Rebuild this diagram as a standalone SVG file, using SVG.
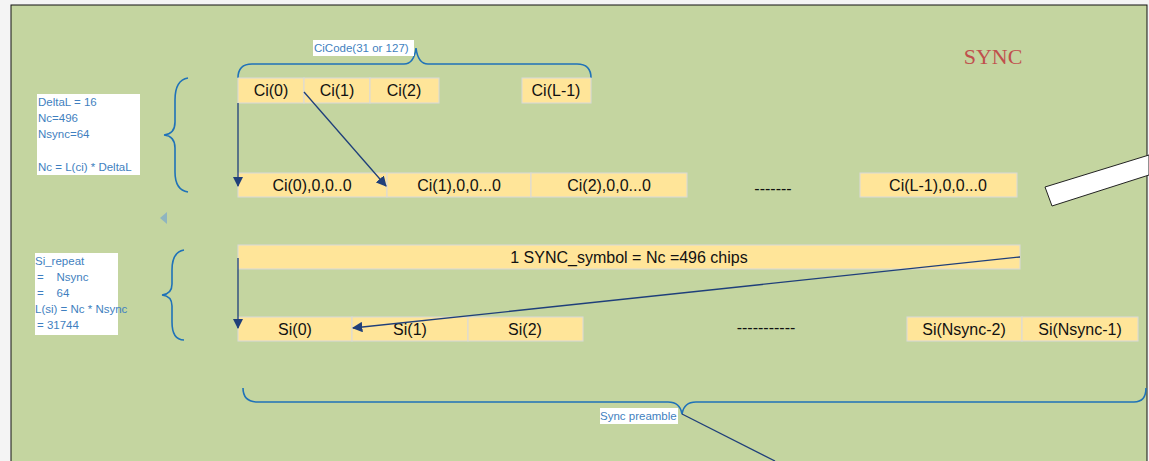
<svg xmlns="http://www.w3.org/2000/svg" width="1149" height="461" viewBox="0 0 1149 461">
<style>
.c{fill:#ffe599;stroke:#d9d9d9;stroke-width:1}
.t{font-family:"Liberation Sans",Arial,sans-serif;font-size:16px;fill:#111;text-anchor:middle}
.n{font-family:"Liberation Sans",Arial,sans-serif;font-size:11.5px;fill:#3f7fc0;white-space:pre}
.b{fill:none;stroke:#1f72b8;stroke-width:1.6}
.a{stroke:#1f3f7a;stroke-width:1.3;fill:none}
</style>
<defs><marker id="m" viewBox="0 0 10 10" refX="9" refY="5" markerWidth="8" markerHeight="8" orient="auto"><path d="M0,0L10,5L0,10z" fill="#1f3f7a"/></marker></defs>
<rect width="1149" height="461" fill="#f4f4f4"/>
<rect x="11" y="5" width="1136" height="470" fill="#c4d5a0" stroke="#111" stroke-width="1"/>
<text x="993" y="64" font-family="Liberation Serif,serif" font-size="22" fill="#c0504d" text-anchor="middle">SYNC</text>
<g id="braces">
<path class="b" d="M238,78 Q238,64 252,64 L404,64 Q414,64 416,48 Q418,64 428,64 L577,64 Q591,64 591,78"/>
<path class="b" d="M188,78 Q175,80 175,100 L175,122 Q175,134 164,135 Q175,136 175,148 L175,172 Q175,190 188,192"/>
<path class="b" d="M184,250 Q172,252 172,270 L172,284 Q172,294 162,295 Q172,296 172,306 L172,322 Q172,340 184,340"/>
<path class="b" d="M243,388 Q243,402 258,402 L668,402 Q680,402 682,414 Q684,402 696,402 L1134,402 Q1146,402 1146,388"/>
</g>
<g id="labels">
<rect x="313" y="40" width="101" height="16" fill="#fff"/><text class="n" x="314" y="52">CiCode(31 or 127)</text>
<rect x="600" y="408" width="78" height="16" fill="#fff"/><text class="n" x="600" y="420">Sync preamble</text>
</g>
<g id="note1"><rect x="37" y="94" width="103" height="81" fill="#fff"/>
<text class="n" x="38" y="106">DeltaL = 16</text><text class="n" x="38" y="122">Nc=496</text><text class="n" x="38" y="138">Nsync=64</text><text class="n" x="38" y="171">Nc = L(ci) * DeltaL</text></g>
<g id="note2"><rect x="35" y="253" width="83" height="82" fill="#fff"/>
<text class="n" x="35" y="265">Si_repeat</text><text class="n" x="37" y="281" xml:space="preserve">=    Nsync</text><text class="n" x="37" y="297" xml:space="preserve">=    64</text><text class="n" x="35" y="313">L(si) = Nc * Nsync</text><text class="n" x="37" y="329">= 31744</text></g>
<g id="row1">
<rect class="c" x="238" y="78" width="66" height="25"/><text class="t" x="271" y="96">Ci(0)</text>
<rect class="c" x="304" y="78" width="66" height="25"/><text class="t" x="337" y="96">Ci(1)</text>
<rect class="c" x="370" y="78" width="69" height="25"/><text class="t" x="404" y="96">Ci(2)</text>
<rect class="c" x="522" y="78" width="69" height="25"/><text class="t" x="556" y="96">Ci(L-1)</text>
</g>
<g id="row2">
<rect class="c" x="238" y="173" width="149" height="24"/><text class="t" x="312" y="191">Ci(0),0,0..0</text>
<rect class="c" x="387" y="173" width="144" height="24"/><text class="t" x="459" y="191">Ci(1),0,0...0</text>
<rect class="c" x="531" y="173" width="156" height="24"/><text class="t" x="609" y="191">Ci(2),0,0...0</text>
<text class="t" x="773" y="194">-------</text>
<rect class="c" x="860" y="173" width="157" height="24"/><text class="t" x="938" y="191">Ci(L-1),0,0...0</text>
</g>
<g id="sym"><rect class="c" x="238" y="245" width="782" height="24"/><text class="t" x="629" y="263">1 SYNC_symbol = Nc =496 chips</text></g>
<g id="row3">
<rect class="c" x="238" y="317" width="114" height="24"/><text class="t" x="295" y="335">Si(0)</text>
<rect class="c" x="352" y="317" width="116" height="24"/><text class="t" x="410" y="335">Si(1)</text>
<rect class="c" x="468" y="317" width="115" height="24"/><text class="t" x="525" y="335">Si(2)</text>
<text class="t" x="766" y="333">-----------</text>
<rect class="c" x="907" y="317" width="115" height="24"/><text class="t" x="964" y="335">Si(Nsync-2)</text>
<rect class="c" x="1022" y="317" width="116" height="24"/><text class="t" x="1080" y="335">Si(Nsync-1)</text>
</g>
<polygon points="1045,187 1052,206 1149,175 1149,155" fill="#fff" stroke="#222" stroke-width="1"/>
<polygon points="160,218 167,212 167,224" fill="#8fb5c0"/>
<g id="connectors">
<path class="a" d="M238,103 L238,186" marker-end="url(#m)"/>
<path class="a" d="M304,92 L386,186" marker-end="url(#m)"/>
<path class="a" d="M238,258 L238,328" marker-end="url(#m)"/>
<path class="a" d="M1020,257 L353,328" marker-end="url(#m)"/>
<path class="a" d="M682,414 L775,461"/>
</g>
</svg>
